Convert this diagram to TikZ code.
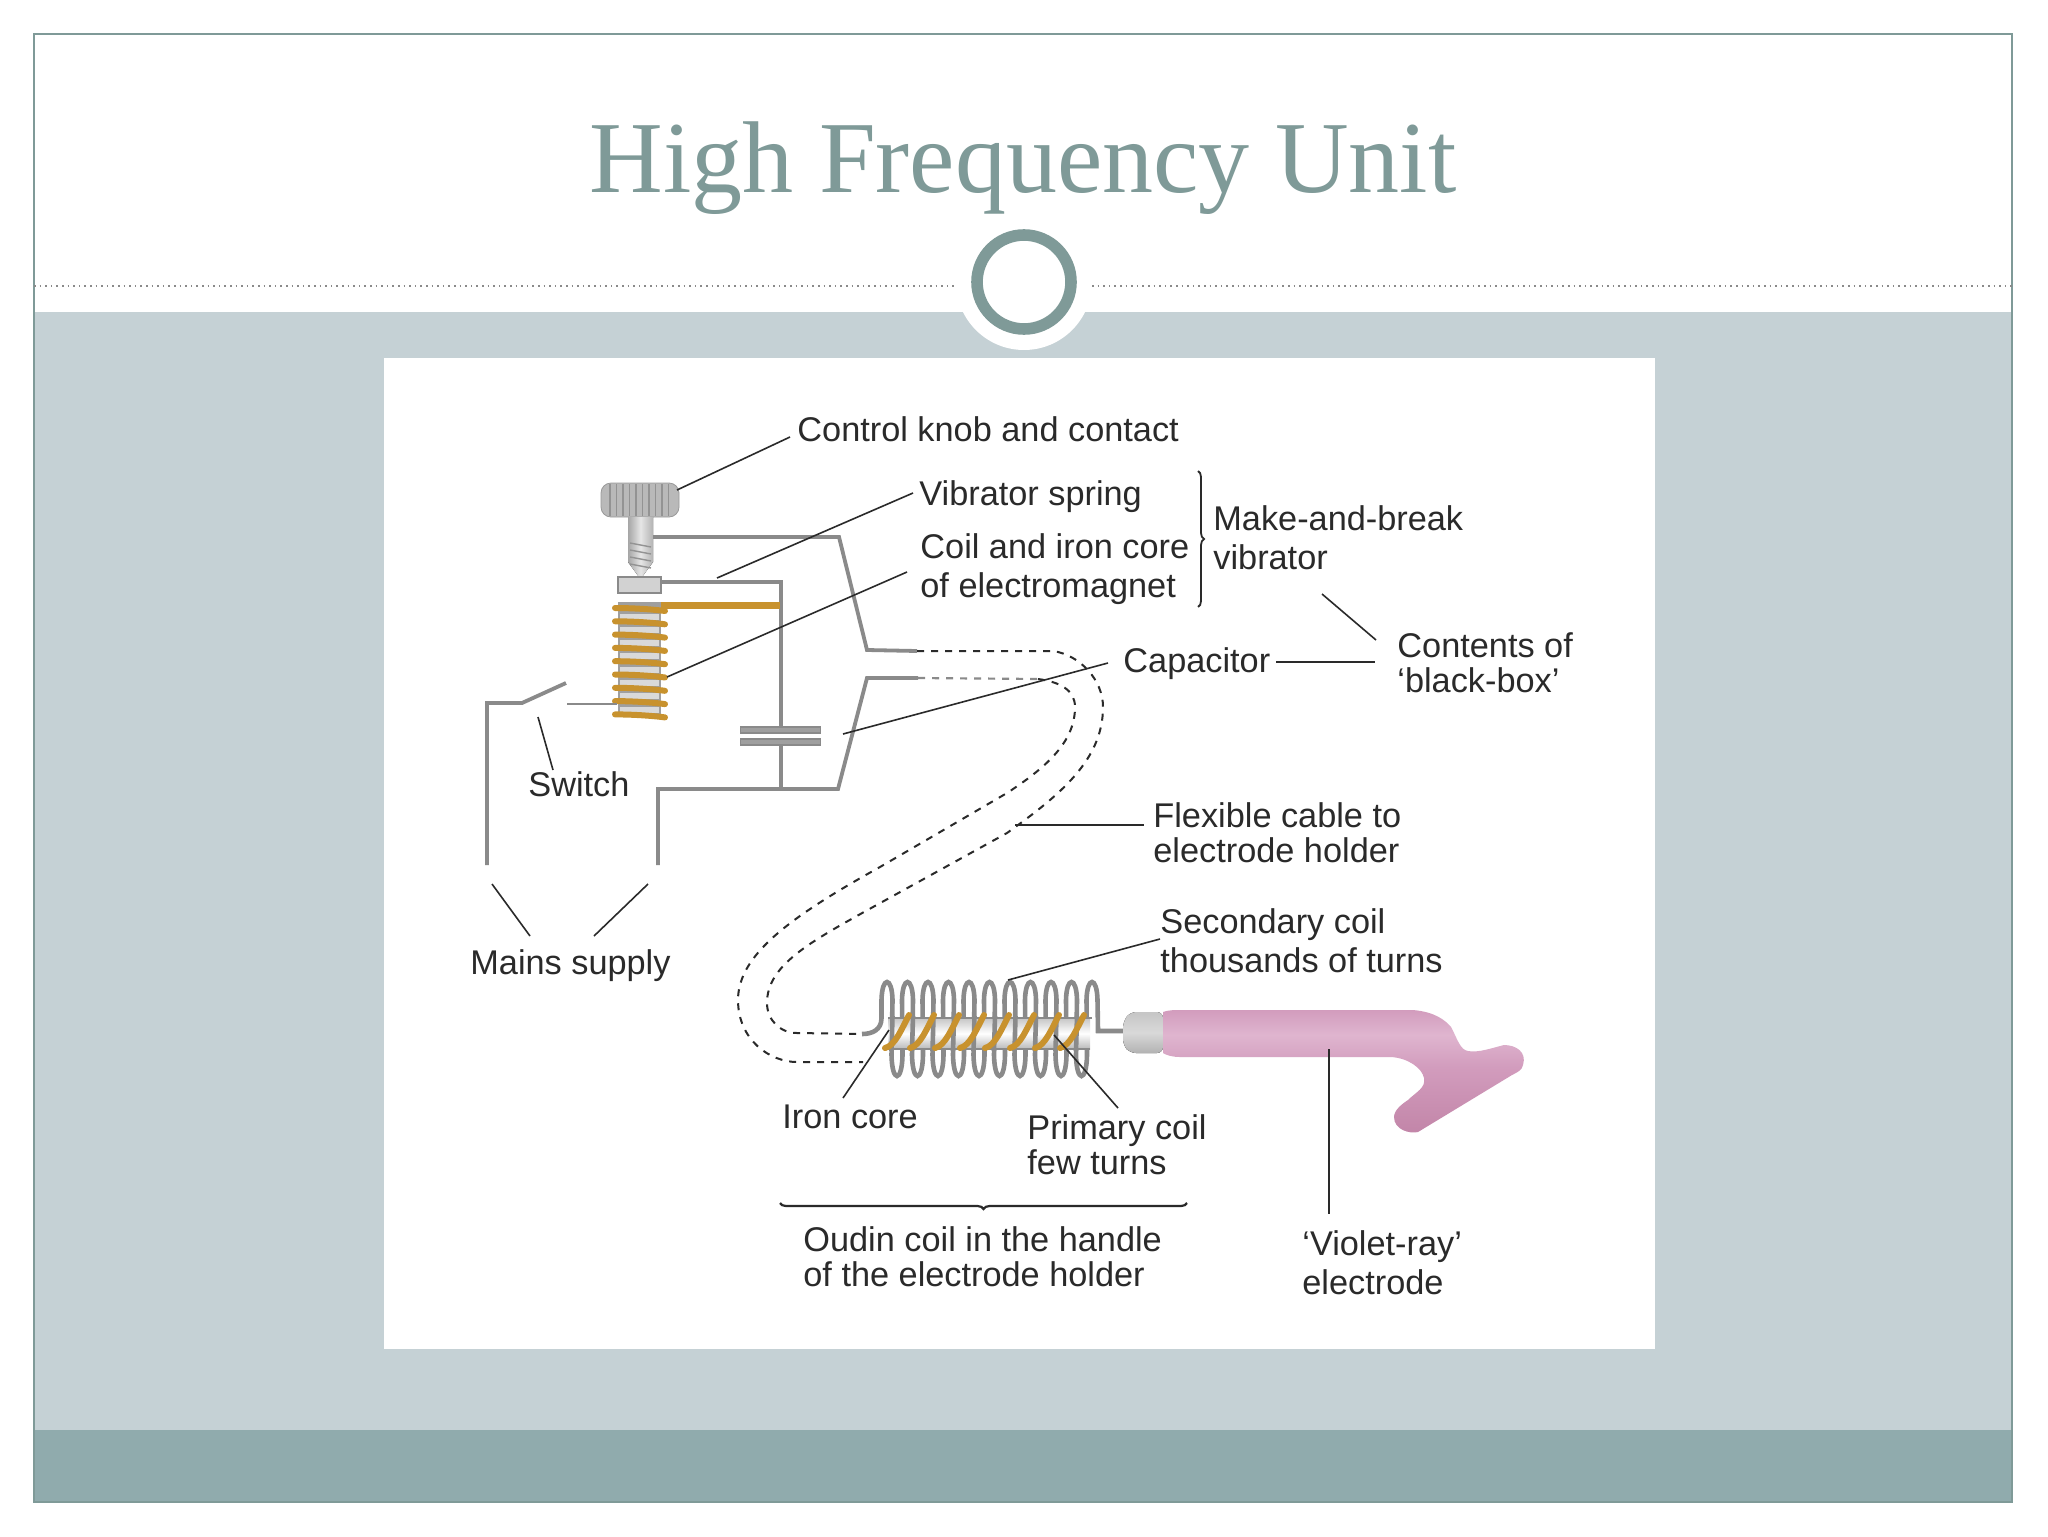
\documentclass[tikz,border=0pt]{standalone}
\usepackage{fontspec}
\setmainfont{Liberation Sans}
\newfontfamily\titlefont{Liberation Serif}
\usetikzlibrary{decorations.pathreplacing}
\definecolor{framecol}{HTML}{7F9A98}
\definecolor{bandcol}{HTML}{C5D1D5}
\definecolor{stripcol}{HTML}{90ABAD}
\definecolor{wirecol}{HTML}{8A8A8A}
\definecolor{goldcol}{HTML}{C8922E}
\definecolor{inkcol}{HTML}{2A2A2A}
\definecolor{pinkdark}{HTML}{C285A8}
\definecolor{pinkmid}{HTML}{D29CBD}
\definecolor{pinklight}{HTML}{DFB5CF}
\pgfdeclareverticalshading{handleshade}{100bp}{color(0bp)=(pinkdark); color(25bp)=(pinkdark);
  color(52bp)=(pinkmid); color(65bp)=(pinklight); color(75bp)=(pinkmid); color(100bp)=(pinkmid)}
\newcommand{\lblfont}{\fontsize{17.15}{18.5}\selectfont}
\begin{document}
\begin{tikzpicture}[x=0.5pt,y=-0.5pt,
            lbl/.style = {anchor=base west,inner sep=0pt,font=\lblfont,text=inkcol,align=left},
            leader/.style = {draw=inkcol,line width=0.8pt},
            wire/.style = {draw=wirecol,line width=1.9pt},
            cable/.style = {draw=inkcol,line width=1pt,dash pattern=on 3.5pt off 3.5pt},
            cablegray/.style = {draw=wirecol,line width=1.1pt,dash pattern=on 3.5pt off 3.5pt},
            coilwire/.style = {draw=wirecol,line width=2.3pt},
            goldwire/.style = {draw=goldcol,line width=3pt,line cap=round},
            metal/.style = {left color=gray!70,right color=gray!60,middle color=gray!20}]
        \useasboundingbox (0,0) rectangle (2048,1536);

        % Slide background
        \fill[white] (0,0) rectangle (2048,1536);
        \fill[bandcol] (34,312) rectangle (2012,1430);
        \fill[stripcol] (34,1430) rectangle (2012,1502);
        \draw[framecol,line width=1pt] (34,34) rectangle (2012,1502);
        \fill[white] (384,358) rectangle (1655,1349);

        % Title and ring
        \draw[wirecol,line width=0.8pt,dotted] (34,286) -- (955,286);
        \draw[wirecol,line width=0.8pt,dotted] (1092,286) -- (2012,286);
        \fill[white] (1024,282) circle (68);
        \draw[framecol,line width=5.8pt] (1024,282) circle (47);
        \node[anchor=base,inner sep=0pt,text=framecol,font=\titlefont\fontsize{51}{55}\selectfont] (title) at (1023,192) {High Frequency Unit};

        % Control knob
        \node[draw=gray!80,fill=gray!55,rounded corners=5pt,minimum width=39pt,minimum height=17pt,inner sep=0pt] (knob) at (640,500) {};
        \foreach \i in {0,...,9} {
            \draw[gray!85,line width=0.6pt] ({610+6.5*\i},484) -- ({610+6.5*\i},516);
        }
        \fill[metal] (628,517) -- (653,517) -- (653,562) -- (642,577) -- (639,577) -- (628,562) -- cycle;
        \foreach \i in {0,...,3} {
            \draw[gray!85,line width=0.7pt] (630,{543+7*\i}) -- (651,{547+7*\i});
        }

        % Vibrator spring and contact
        \node[draw=wirecol,fill=gray!35,line width=1pt,minimum width=21.5pt,minimum height=8pt,inner sep=0pt] (contact) at (639.5,585) {};
        \coordinate (springcorner) at (781,582);
        \coordinate (capup) at (781,727);
        \coordinate (capdown) at (781,745);
        \draw[wire] (contact.east |- springcorner) -- (springcorner) -- (capup);

        % Electromagnet
        \fill[gray!75] (618,602) rectangle (661,717);
        \fill[goldcol] (661,602) rectangle (780,609);
        \foreach \i in {0,...,7} {
            \fill[gray!30] (620,{613.5+13.3*\i}) rectangle (659,{619.5+13.3*\i});
        }
        \foreach \i in {0,...,8} {
            \draw[goldwire] (615,{608+13.3*\i}) .. controls (630,{608+13.3*\i}) and (650,{609+13.3*\i}) .. (665,{611+13.3*\i});
        }

        % Capacitor
        \node[draw=wirecol,fill=gray!75,line width=0.8pt,minimum width=40pt,minimum height=2.8pt,inner sep=0pt] (plateA) at (780.5,730) {};
        \node[draw=wirecol,fill=gray!75,line width=0.8pt,minimum width=40pt,minimum height=2.8pt,inner sep=0pt] (plateB) at (780.5,742) {};

        % Circuit wires
        \coordinate (knobwire) at (653,537);
        \coordinate (topend) at (917,651);
        \coordinate (lowend) at (918,678);
        \coordinate (mainsL) at (487,865);
        \coordinate (mainsR) at (658,865);
        \coordinate (swhinge) at (522,703);
        \coordinate (swblade) at (566,683);
        \coordinate (swfixed) at (567,704);
        \draw[wire] (knobwire) -- (839,537) -- (867,650) -- (topend);
        \draw[wire] (capdown) -- (781,789);
        \draw[wire] (mainsR) -- (658,789) -- (838,789) -- (867,678) -- (lowend);
        \draw[wire] (mainsL) -- (487,703) -- (swhinge) -- (swblade);
        \draw[wirecol,line width=1.2pt] (swfixed) -- (617,704);

        % Flexible cable
        \coordinate (coilin) at (862,1034);
        \coordinate (coilout) at (863,1062);
        \draw[cablegray] (lowend) -- (1038,679);
        \draw[cable] (topend) -- (1053,651) .. controls (1080,655) and (1103,680) .. (1103,707)
            .. controls (1103,760) and (1060,795) .. (1007,833)
            -- (873,907) .. controls (810,942) and (767,965) .. (767,1003)
            .. controls (767,1020) and (780,1033) .. (797,1033) -- (coilin);
        \draw[cable] (1038,679) .. controls (1060,682) and (1075,690) .. (1075,707)
            .. controls (1075,740) and (1050,765) .. (1007,793)
            -- (880,867) .. controls (790,917) and (738,955) .. (738,1000)
            .. controls (738,1040) and (770,1062) .. (797,1062) -- (coilout);

        % Secondary coil
        \draw[coilwire] (coilin) .. controls (872,1034) and (881.5,1030) .. (881.5,1018) -- (881.5,1000)
            foreach \i in {0,...,9} {
                .. controls ({882+20.5*\i},976) and ({892+20.5*\i},976) .. ({892.5+20.5*\i},1000)
                -- ({891.5+20.5*\i},1055)
                .. controls ({892+20.5*\i},1083) and ({902+20.5*\i},1083) .. ({902.5+20.5*\i},1055)
                -- ({902+20.5*\i},1000)
            }
            .. controls (1087,976) and (1097,976) .. (1097.5,1000) -- (1098,1031) -- (1123,1031);
        \fill[top color=gray!45,bottom color=gray!55,middle color=white] (888,1018) rectangle (1090,1049);
        \foreach \i in {0,...,9} {
            \draw[coilwire] ({892.5+20.5*\i},1016) -- ({891.5+20.5*\i},1051);
        }
        \draw[wirecol,line width=1.4pt] (888,1018) -- (1092,1018);
        \draw[wirecol,line width=1.4pt] (888,1049) -- (1090,1049);
        \foreach \i in {0,...,7} {
            \draw[goldwire] ({885+25*\i},1048) .. controls ({895+25*\i},1046) and ({902+25*\i},1028) .. ({909+25*\i},1015);
        }

        % Violet-ray electrode
        \fill[top color=gray!45,bottom color=gray!60,middle color=gray!30,rounded corners=3pt] (1163,1012) -- (1130,1012) -- (1123,1022) -- (1123,1045) -- (1130,1053) -- (1163,1053) -- cycle;
        \path[shading=handleshade] (1163,1012) .. controls (1168,1010) and (1175,1010) .. (1180,1010) -- (1413,1010)
            .. controls (1435,1012) and (1445,1020) .. (1451,1027)
            .. controls (1457,1038) and (1460,1050) .. (1468,1051)
            .. controls (1478,1053) and (1492,1048) .. (1504,1045)
            .. controls (1516,1045) and (1527,1052) .. (1523,1065)
            .. controls (1522,1070) and (1518,1072) .. (1512,1075)
            -- (1418,1132) .. controls (1410,1134) and (1394,1130) .. (1394,1117)
            .. controls (1394,1110) and (1402,1104) .. (1408,1100)
            .. controls (1416,1092) and (1426,1088) .. (1424,1078)
            .. controls (1422,1068) and (1408,1058) .. (1391,1057)
            -- (1180,1057) .. controls (1172,1057) and (1166,1055) .. (1163,1053) -- cycle;

        % Labels
        \node[lbl] (lknob) at (797,441) {Control knob and contact};
        \node[lbl] (lspring) at (919,505) {Vibrator spring};
        \node[lbl] (lcoil) at (920,597) {Coil and iron core\\[1pt]of electromagnet};
        \node[lbl] (lvib) at (1213,569) {Make-and-break\\[1pt]vibrator};
        \node[lbl] (lcap) at (1123,672) {Capacitor};
        \node[lbl] (lbox) at (1397,692) {Contents of\\[-1pt]‘black-box’};
        \node[lbl] (lswitch) at (528,796) {Switch};
        \node[lbl] (lmains) at (470,974) {Mains supply};
        \node[lbl] (lcable) at (1153,862) {Flexible cable to\\[-1pt]electrode holder};
        \node[lbl] (lsec) at (1160,972) {Secondary coil\\[1pt]thousands of turns};
        \node[lbl] (liron) at (782,1128) {Iron core};
        \node[lbl] (lprim) at (1027,1174) {Primary coil\\[-1pt]few turns};
        \node[lbl] (loudin) at (803,1286) {Oudin coil in the handle\\[-1pt]of the electrode holder};
        \node[lbl] (lviolet) at (1302,1294) {‘Violet-ray’\\[1pt]electrode};

        % Leader lines
        \coordinate (eknobA) at (790,437);   \coordinate (eknobB) at (677,490);
        \coordinate (esprA) at (913,493);    \coordinate (esprB) at (717,578);
        \coordinate (ecoilA) at (907,572);   \coordinate (ecoilB) at (667,677);
        \coordinate (ecapA) at (1108,663);   \coordinate (ecapB) at (843,734);
        \coordinate (ecapC) at (1276,662);   \coordinate (eboxA) at (1375,662);
        \coordinate (evibA) at (1322,594);   \coordinate (eboxB) at (1376,640);
        \coordinate (eswA) at (538,717);     \coordinate (eswB) at (553,770);
        \coordinate (emnA) at (492,884);     \coordinate (emnB) at (530,936);
        \coordinate (emnC) at (648,884);     \coordinate (emnD) at (594,936);
        \coordinate (ecabA) at (1015,825);   \coordinate (ecabB) at (1144,825);
        \coordinate (esecA) at (1160,939);   \coordinate (esecB) at (1008,980);
        \coordinate (eirnA) at (889,1030);   \coordinate (eirnB) at (843,1098);
        \coordinate (eprmA) at (1054,1035);  \coordinate (eprmB) at (1118,1108);
        \coordinate (evioA) at (1329,1049);  \coordinate (evioB) at (1329,1214);
        \foreach \a/\b in {eknobA/eknobB,esprA/esprB,ecoilA/ecoilB,ecapA/ecapB,ecapC/eboxA,evibA/eboxB,eswA/eswB,emnA/emnB,emnC/emnD,ecabA/ecabB,esecA/esecB,eirnA/eirnB,eprmA/eprmB,evioA/evioB} {
            \draw[leader] (\a) -- (\b);
        }

        % Braces
        \draw[inkcol,line width=0.9pt,decorate,decoration={brace,amplitude=3pt}] (1198,471) -- (1198,607);
        \draw[inkcol,line width=1.1pt,decorate,decoration={brace,mirror,amplitude=3pt}] (780,1203) -- (1187,1203);

        \end{tikzpicture}
\end{document}
